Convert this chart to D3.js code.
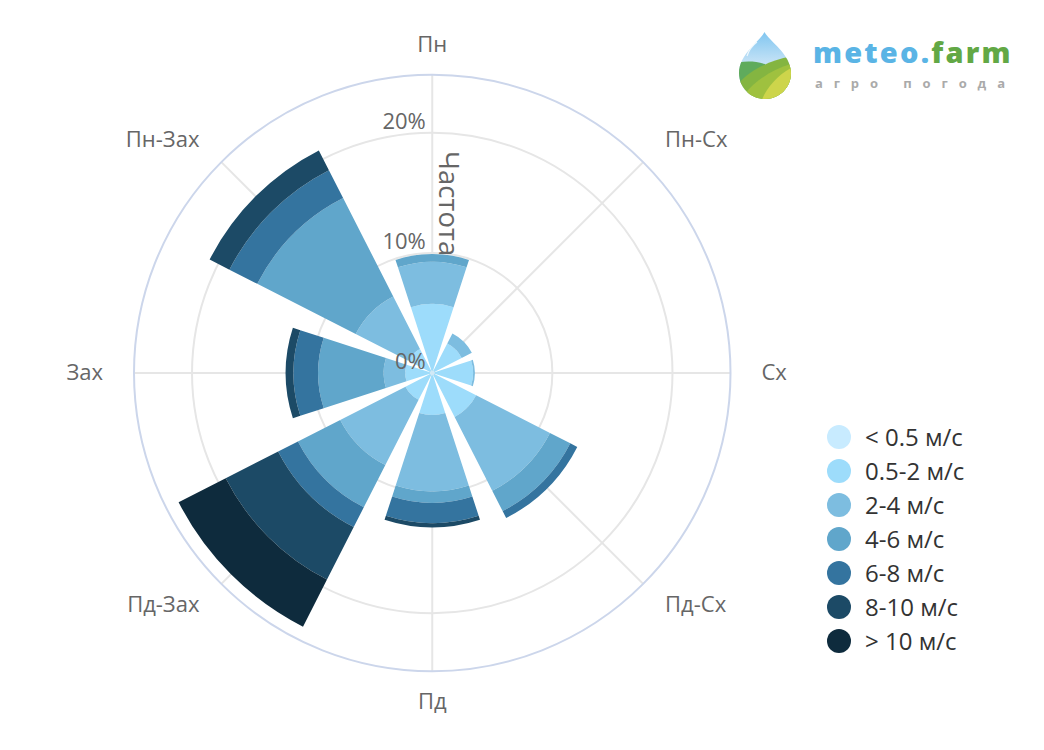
<!DOCTYPE html>
<html>
<head>
<meta charset="utf-8">
<script src="https://cdn.jsdelivr.net/npm/d3@7"></script>
<style>
  html, body { margin: 0; padding: 0; background: #fff; }
  text { font-family: "Open Sans", sans-serif; }
</style>
</head>
<body>
<svg id="chart" width="1044" height="750"></svg>
<script>
const directions = ['Пн', 'Пн-Сх', 'Сх', 'Пд-Сх', 'Пд', 'Пд-Зах', 'Зах', 'Пн-Зах'];
const speedLabels = ['< 0.5 м/с', '0.5-2 м/с', '2-4 м/с', '4-6 м/с', '6-8 м/с', '8-10 м/с', '> 10 м/с'];
const speedColors = ['#c8ebff', '#9ddcfb', '#7dbde0', '#60a6cb', '#34749f', '#1c4a66', '#0e2b3d'];
const radialTicks = [0, 10, 20];

// percent per direction
const under05 = [0.2, 0.2, 0.2, 0.2, 0.2, 0.2, 0.2, 0.2];
const from05to2 = [5.55, 2.55, 3.2, 3.9, 3.3, 2.3, 2.05, 2.05];
const from2to4 = [3.5, 0.95, 0.15, 6.9, 6.35, 6.1, 1.8, 4.9];
const from4to6 = [0.65, 0, 0, 1.9, 0.95, 3.95, 5.45, 9.2];
const from6to8 = [0, 0, 0, 0.65, 1.7, 1.85, 2.05, 2.6];
const from8to10 = [0, 0, 0, 0, 0.35, 4.9, 0.65, 1.85];
const over10 = [0, 0, 0, 0, 0, 4.4, 0, 0];

const series = [under05, from05to2, from2to4, from4to6, from6to8, from8to10, over10];

const cx = 432.25;
const cy = 373;
const outerR = 298.25;
const axisMax = 24.83;

const svg = d3.select('#chart');
const g = svg.append('g').attr('transform', `translate(${cx}, ${cy})`);

const r = d3.scaleLinear().domain([0, axisMax]).range([0, outerR]);

// 45 degree step, bars take 80% of it and are centred on the direction
const step = Math.PI / 4;
const angle = d3.scaleBand()
  .domain(directions)
  .range([-step / 2, 2 * Math.PI - step / 2])
  .paddingInner(0.2)
  .paddingOuter(0.1);
const mid = (d) => angle(d) + angle.bandwidth() / 2;

// grid
g.selectAll('.spoke')
  .data(directions)
  .enter()
  .append('line')
    .attr('x1', 0)
    .attr('y1', 0)
    .attr('x2', (d) => outerR * Math.sin(mid(d)))
    .attr('y2', (d) => -outerR * Math.cos(mid(d)))
    .attr('stroke', '#e6e6e6')
    .attr('stroke-width', 2);

g.selectAll('.ring')
  .data(radialTicks.slice(1))
  .enter()
  .append('circle')
    .attr('r', (d) => r(d))
    .attr('fill', 'none')
    .attr('stroke', '#e6e6e6')
    .attr('stroke-width', 2);

g.append('circle')
  .attr('r', outerR)
  .attr('fill', 'none')
  .attr('stroke', '#ccd6eb')
  .attr('stroke-width', 2);

// axis title sits under the bars
svg.append('text')
  .attr('transform', 'translate(439, 151) rotate(90)')
  .attr('font-size', 27.5)
  .attr('fill', '#666')
  .text('Частота');

// stacked bars
const rows = directions.map((dir, i) => {
  const row = { dir };
  speedLabels.forEach((label, j) => { row[label] = series[j][i]; });
  return row;
});

const stacked = d3.stack().keys(speedLabels)(rows);

const arc = d3.arc()
  .innerRadius((d) => r(d[0]))
  .outerRadius((d) => r(d[1]))
  .startAngle((d) => angle(d.data.dir))
  .endAngle((d) => angle(d.data.dir) + angle.bandwidth());

g.selectAll('.speed')
  .data(stacked)
  .enter()
  .append('g')
    .attr('fill', (d, i) => speedColors[i])
  .selectAll('path')
  .data((d) => d.filter((p) => p[1] > p[0]))
  .enter()
  .append('path')
    .attr('d', arc);

// direction labels, anchored away from the circle on the sides
const labelR = outerR + 31;
g.selectAll('.dir-label')
  .data(directions)
  .enter()
  .append('text')
    .attr('x', (d) => labelR * Math.sin(mid(d)))
    .attr('y', (d) => {
      const c = Math.cos(mid(d));
      const dy = c > 0.99 ? 8 : (c > 0.1 ? 7 : 6.5);
      return -labelR * c + dy;
    })
    .attr('text-anchor', (d) => {
      const s = Math.sin(mid(d));
      if (Math.abs(s) < 0.1) return 'middle';
      return s > 0 ? 'start' : 'end';
    })
    .attr('font-size', 22)
    .attr('fill', '#666')
    .text((d) => d);

// radial tick labels
g.selectAll('.tick-label')
  .data(radialTicks)
  .enter()
  .append('text')
    .attr('x', -6.5)
    .attr('y', (d) => -r(d) - 4.25)
    .attr('text-anchor', 'end')
    .attr('font-size', 22)
    .attr('fill', '#666')
    .text((d) => `${d}%`);

// legend
const legend = svg.selectAll('.legend')
  .data(speedLabels)
  .enter()
  .append('g')
    .attr('transform', (d, i) => `translate(839, ${437 + i * 34})`);

legend.append('circle')
  .attr('r', 12)
  .attr('fill', (d, i) => speedColors[i]);

legend.append('text')
  .attr('x', 26)
  .attr('y', 8.5)
  .attr('font-size', 24)
  .attr('fill', '#333')
  .text((d) => d);

// logo
const logo = svg.append('g');
const dropPath = 'M764.5 32 C760 41 739 54 739 73 C739 88 751 99 765 99 C779 99 791 88 791 73 C791 54 769 41 764.5 32 Z';
const defs = svg.append('defs');
const sky = defs.append('linearGradient').attr('id', 'sky').attr('x1', 0).attr('y1', 0).attr('x2', 0).attr('y2', 1);
sky.append('stop').attr('offset', '0%').attr('stop-color', '#7cc4f0');
sky.append('stop').attr('offset', '45%').attr('stop-color', '#c4e2f6');
defs.append('clipPath').attr('id', 'drop').append('path').attr('d', dropPath);

const drop = logo.append('g').attr('clip-path', 'url(#drop)');
drop.append('rect').attr('x', 735).attr('y', 30).attr('width', 60).attr('height', 72).attr('fill', 'url(#sky)');
drop.append('path').attr('d', 'M735 63 C745 61 755 61 765 64 L770 80 L735 85 Z').attr('fill', '#5fab5c');
drop.append('path').attr('d', 'M738 84 C750 70 772 59 795 56 L795 102 L735 102 Z').attr('fill', '#84b541');
drop.append('path').attr('d', 'M745 94 C755 80 775 68 795 63 L795 102 L745 102 Z').attr('fill', '#9fc13f');
drop.append('path').attr('d', 'M761 102 C766 88 778 74 795 66 L795 102 Z').attr('fill', '#cdd54b');
logo.append('path').attr('d', 'M747 56 C749 50 753 45 757 42').attr('stroke', '#fff').attr('stroke-width', 1.2).attr('fill', 'none').attr('opacity', 0.8);

const brand = logo.append('text')
  .attr('x', 813)
  .attr('y', 63)
  .attr('font-size', 29)
  .attr('font-weight', 800)
  .attr('letter-spacing', 2.2);
brand.append('tspan').attr('fill', '#5ab4e5').text('meteo.');
brand.append('tspan').attr('fill', '#62a845').text('farm');

logo.append('text')
  .attr('x', 815)
  .attr('y', 87.5)
  .attr('font-size', 13)
  .attr('font-weight', 700)
  .attr('letter-spacing', 10.9)
  .attr('fill', '#aaa')
  .text('агро погода');
</script>
</body>
</html>
